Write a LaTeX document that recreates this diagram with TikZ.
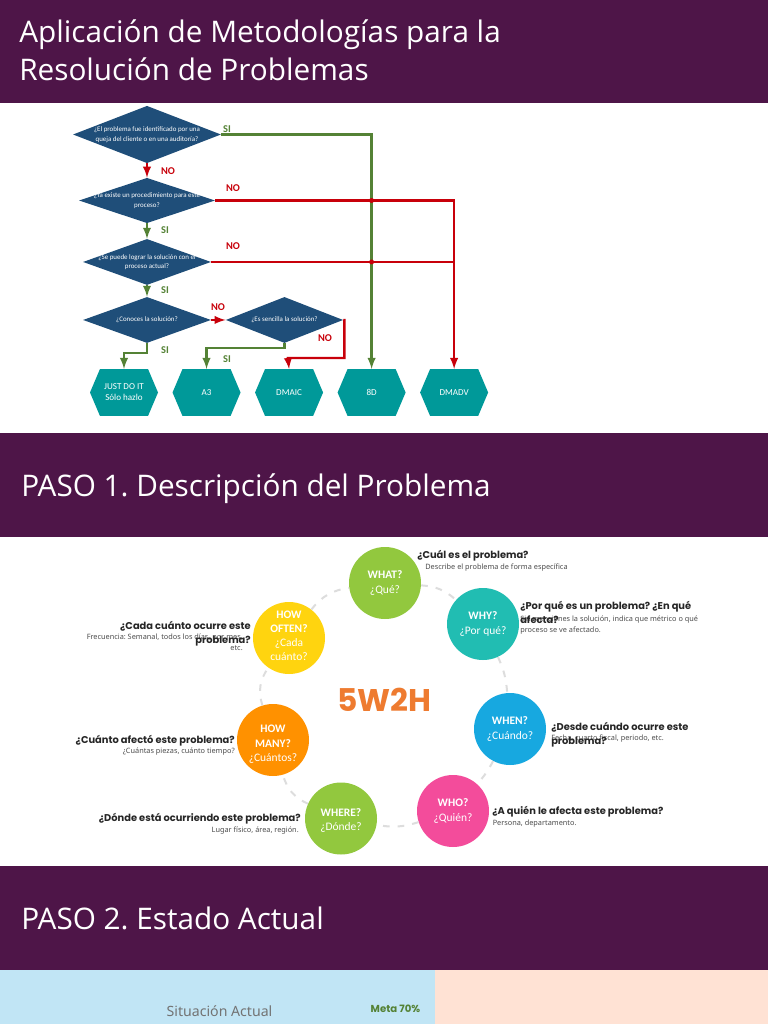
\documentclass[tikz,border=0pt]{standalone}
\usepackage{fontspec}
\setmainfont{Open Sans}
\newfontfamily\flowfont{Carlito}
\newfontfamily\headfont{Poppins}
\newfontfamily\notefont{Noto Sans}
\usepackage{xcolor}
\usetikzlibrary{arrows,shapes.geometric,shapes.symbols}
\definecolor{bandcol}{HTML}{4E1548}
\definecolor{diacol}{HTML}{1F4E79}
\definecolor{hexcol}{HTML}{009999}
\definecolor{yescol}{HTML}{548235}
\definecolor{nocol}{HTML}{C8000A}
\definecolor{ringcol}{HTML}{DDDDDD}
\definecolor{skycol}{HTML}{C1E5F5}
\definecolor{peachcol}{HTML}{FFE2D4}
\frenchspacing
\tikzset{%
	band/.style     = {fill=bandcol, draw=none},
	title/.style    = {anchor=west, text=white, font=\fontsize{22.3}{28.5}\selectfont, align=left, inner sep=0pt},
	decision/.style = {diamond, fill=diacol, inner sep=0pt, aspect=2.5},
	dtext/.style    = {text=white, font=\flowfont\fontsize{5.2}{7.2}\selectfont, align=center, inner sep=0pt},
	method/.style   = {signal, signal to=east and west, signal pointer angle=134, fill=hexcol, text=white, inner sep=0pt, minimum width=51pt, minimum height=35pt, font=\flowfont\fontsize{6.8}{8.3}\selectfont, align=center},
	yesline/.style  = {draw=yescol, line width=1.8pt, -latex},
	noline/.style   = {draw=nocol, line width=1.8pt, -latex},
	yestext/.style  = {text=yescol, font=\flowfont\bfseries\fontsize{7.8}{9}\selectfont, inner sep=0pt},
	notext/.style   = {text=nocol, font=\flowfont\bfseries\fontsize{7.8}{9}\selectfont, inner sep=0pt},
	stage/.style    = {circle, minimum size=54pt, inner sep=0pt, text=white, font=\flowfont\fontsize{8.6}{10.6}\selectfont, align=center},
	ring/.style     = {draw=ringcol, line width=1.5pt, dash pattern=on 5pt off 6pt},
	qhead/.style    = {text=black!85, font=\headfont\bfseries\fontsize{7.4}{10.5}\selectfont, inner sep=0pt},
	qnote/.style    = {text=black!70, font=\notefont\fontsize{5.5}{8.2}\selectfont, inner sep=0pt},
}
\begin{document}
\begin{tikzpicture}[x=0.75pt,y=-0.75pt]
	\useasboundingbox (0,0) rectangle (768,1024);
	\fill[white] (0,0) rectangle (768,1024);
	\fill[band] (0,0) rectangle (768,103);
	\fill[band] (0,433) rectangle (768,537);
	\fill[band] (0,866) rectangle (768,970);
	\fill[skycol] (0,970) rectangle (435,1024);
	\fill[peachcol] (435,970) rectangle (768,1024);

	\node[title] (tmain) at (19,50.5) {Aplicación de Metodologías para la\\Resolución de Problemas};
	\node[title] (tpaso1) at (21,489) {PASO 1. Descripción del Problema};
	\node[title] (tpaso2) at (21,918) {PASO 2. Estado Actual};

	% flow chart
	\node[decision, minimum width=111pt, minimum height=43pt] (d1) at (147,134.5) {};
	\node[decision, below of=d1, node distance=49.5pt, minimum width=102pt, minimum height=34pt] (d2) {};
	\node[decision, below of=d2, node distance=46.1pt, minimum width=96pt, minimum height=34.5pt] (d3) {};
	\node[decision, below of=d3, node distance=43.5pt, minimum width=96pt, minimum height=34.5pt] (d4) {};
	\node[decision, right of=d4, node distance=103.1pt, minimum width=88pt, minimum height=34.5pt] (d5) {};
	\node[dtext] (d1t) at (d1) {¿El problema fue identificado por una\\queja del cliente o en una auditoría?};
	\node[dtext] (d2t) at (d2) {¿Ya existe un procedimiento para este\\proceso?};
	\node[dtext] (d3t) at (d3) {¿Se puede lograr la solución con el\\proceso actual?};
	\node[dtext] (d4t) at (d4) {¿Conoces la solución?};
	\node[dtext] (d5t) at (d5) {¿Es sencilla la solución?};

	\node[method] (m1) at (124,392.5) {JUST DO IT\\Sólo hazlo};
	\node[method, right of=m1, node distance=61.9pt] (m2) {A3};
	\node[method, right of=m2, node distance=61.9pt] (m3) {DMAIC};
	\node[method, right of=m3, node distance=61.9pt] (m4) {8D};
	\node[method, right of=m4, node distance=61.9pt] (m5) {DMADV};

	\draw[yesline] (d1.east) -| (m4.north);
	\draw[noline] (d2.east) -| (m5.north);
	\draw[noline, -] (d3.east) -- (d3.east -| m5.north);
	\fill[nocol] (d2.east -| m4.north) circle (2.5);
	\fill[nocol] (d3.east -| m4.north) circle (2.5);
	\draw[noline] (d1.south) -- (d2.north);
	\draw[yesline] (d2.south) -- (d3.north);
	\draw[yesline] (d3.south) -- (d4.north);
	\draw[noline] (d4.east) -- (d5.west);
	\draw[yesline] (d4.south) -- ++(0,10) -| (m1.north);
	\draw[yesline] (d5.south) -- ++(0,5) -| (m2.north);
	\draw[noline] (d5.east) -- ++(1,0) |- (288,358) -- (m3.north);

	\node[yestext] (s1) at (227,129) {SI};
	\node[notext]  (n1) at (168,171) {NO};
	\node[notext]  (n2) at (233,188) {NO};
	\node[yestext] (s2) at (165,230.5) {SI};
	\node[notext]  (n3) at (233,246) {NO};
	\node[yestext] (s3) at (165,290.5) {SI};
	\node[notext]  (n4) at (218,307) {NO};
	\node[yestext] (s4) at (165,350.5) {SI};
	\node[yestext] (s5) at (227,359) {SI};
	\node[notext]  (n5) at (325,338) {NO};

	% 5W2H ring
	\node[stage, fill={rgb,255:red,146;green,200;blue,62}] (what) at (385,583) {\textbf{WHAT?}\\¿Qué?};
	\node[stage, fill={rgb,255:red,33;green,189;blue,178}] (why) at (483,624) {\textbf{WHY?}\\¿Por qué?};
	\node[stage, fill={rgb,255:red,23;green,168;blue,224}] (when) at (510,729) {\textbf{WHEN?}\\¿Cuándo?};
	\node[stage, fill={rgb,255:red,243;green,76;blue,155}] (who) at (453,811) {\textbf{WHO?}\\¿Quién?};
	\node[stage, fill={rgb,255:red,146;green,200;blue,62}] (where) at (341,818.5) {\rule{0pt}{9pt}\textbf{WHERE?}\\¿Dónde?};
	\node[stage, fill={rgb,255:red,255;green,145;blue,0}] (many) at (273,740) {\rule{0pt}{12pt}\textbf{HOW}\\\textbf{MANY?}\\¿Cuántos?};
	\node[stage, fill={rgb,255:red,255;green,212;blue,15}] (often) at (289,638) {\textbf{HOW}\\\textbf{OFTEN?}\\¿Cada\\cuánto?\rule[-3.5pt]{0pt}{3.5pt}};
	\foreach \a/\b/\ang in {what/why/19,why/when/10,when/who/7,who/where/14,where/many/25,many/often/26,often/what/22}
		\draw[ring] (\a) to[bend left=\ang] (\b);
	\node[text={rgb,255:red,238;green,123;blue,48}, font=\headfont\bfseries\fontsize{23.5}{26}\selectfont, inner sep=0pt] (wcenter) at (384.5,700) {5W2H};

	\node[qhead, anchor=west] (qwhat) at (417,555.5) {¿Cuál es el problema?};
	\node[qnote, anchor=west] (nwhat) at (425,568) {Describe el problema de forma específica};
	\node[qnote, anchor=north west, align=left] (nwhy) at (520,616) {Sin menciones la solución, indica  que métrico o qué\\ proceso se ve afectado.};
	\node[qhead, anchor=north west, align=left] (qwhy) at (520,601) {¿Por qué es un problema? ¿En qué\\afecta?};
	\node[qnote, anchor=west] (nwhen) at (551,738.5) {Fecha, cuarto fiscal, periodo, etc.};
	\node[qhead, anchor=north west, align=left] (qwhen) at (551,722) {¿Desde cuándo ocurre este\\problema?};
	\node[qhead, anchor=west] (qwho) at (492,811.5) {¿A quién le afecta este problema?};
	\node[qnote, anchor=west] (nwho) at (492.5,824) {Persona, departamento.};
	\node[qhead, anchor=east] (qwhere) at (301,818.5) {¿Dónde está ocurriendo este problema?};
	\node[qnote, anchor=east] (nwhere) at (299,831) {Lugar físico, área, región.};
	\node[qhead, anchor=east] (qmany) at (235,740.5) {¿Cuánto afectó este problema?};
	\node[qnote, anchor=east] (nmany) at (235,752) {¿Cuántas piezas, cuánto tiempo?};
	\node[qnote, anchor=north east, align=right] (noften) at (243,634) {Frecuencia: Semanal, todos los días, por mes,\\etc.};
	\node[qhead, anchor=north east, align=right] (qoften) at (251,621) {¿Cada cuánto ocurre este\\problema?};

	\node[text=black!55, font=\notefont\fontsize{10.6}{12}\selectfont, inner sep=0pt] (sit) at (219.5,1011) {Situación Actual};
	\node[text=yescol, font=\headfont\bfseries\fontsize{7.6}{9}\selectfont, inner sep=0pt] (meta) at (395.5,1009) {Meta 70\%};
\end{tikzpicture}
\end{document}
